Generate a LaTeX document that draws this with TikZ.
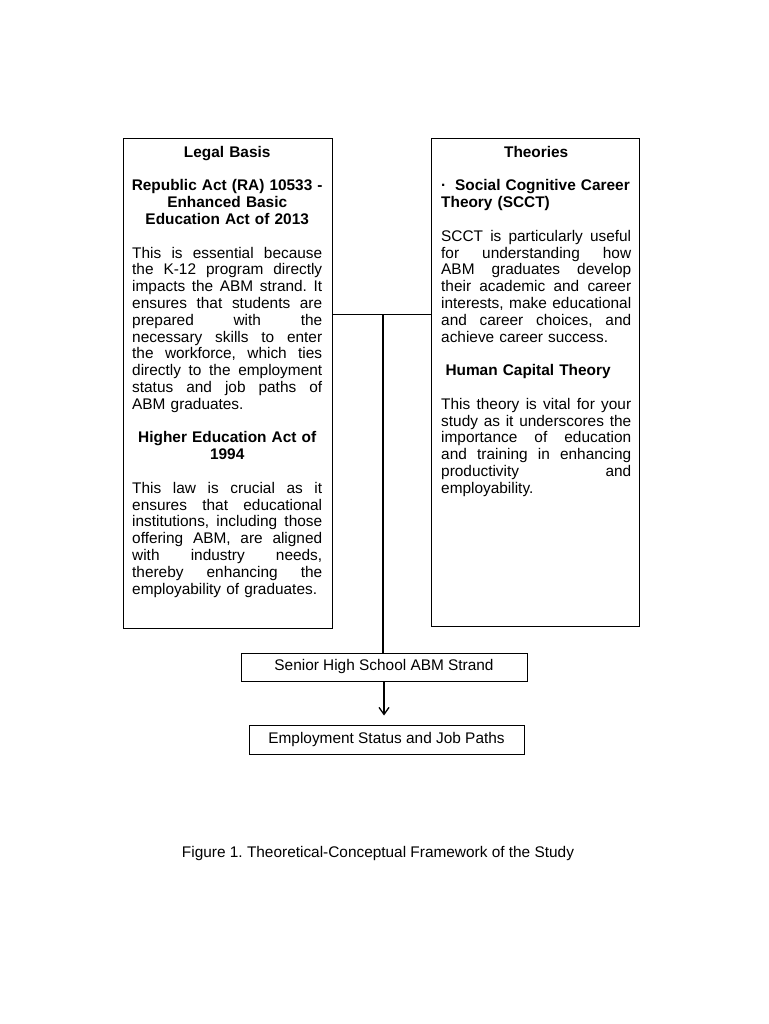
\documentclass[tikz,border=0pt]{standalone}
\usepackage{fontspec}
\setmainfont{Liberation Sans}
\usetikzlibrary{arrows.meta}
\frenchspacing
\newcommand\ctrl[1]{\makebox[190pt][c]{#1}}
\newcommand\jstl[1]{\makebox[190pt][s]{\frenchspacing\spaceskip=0.278em plus 1fil\relax #1}}
\newcommand\lftl[1]{\makebox[190pt][l]{\frenchspacing #1}}
\tikzset{
  frame/.style={draw=black, line width=1pt, inner sep=0pt},
  bodytext/.style={inner sep=0pt, anchor=north west, align=left, text width=190pt,
    font=\fontsize{15.4pt}{16.8pt}\selectfont},
  flowbox/.style={draw=black, line width=1pt, inner sep=0pt,
    font=\fontsize{15.4pt}{16.8pt}\selectfont\frenchspacing},
  link/.style={draw=black, line width=1pt},
}
\begin{document}
\begin{tikzpicture}[x=1pt,y=-1pt]
\useasboundingbox[fill=white] (0,0) rectangle (768,1024);

% boxes
\node[frame, minimum width=209pt, minimum height=490pt, anchor=north west] (legal) at (123,138) {};
\node[frame, minimum width=208pt, minimum height=488pt, anchor=north west] (theory) at (431,138) {};

\node[bodytext] (legaltext) at ([xshift=9pt,yshift=-8pt]legal.north west) {%
\ctrl{\bfseries Legal Basis}\\[16.8pt]
\ctrl{\bfseries Republic Act (RA) 10533 -}\\
\ctrl{\bfseries Enhanced Basic}\\
\ctrl{\bfseries Education Act of 2013}\\[16.8pt]
\jstl{This is essential because}\\
\jstl{the K-12 program directly}\\
\jstl{impacts the ABM strand. It}\\
\jstl{ensures that students are}\\
\jstl{prepared with the}\\
\jstl{necessary skills to enter}\\
\jstl{the workforce, which ties}\\
\jstl{directly to the employment}\\
\jstl{status and job paths of}\\
\lftl{ABM graduates.}\\[16.8pt]
\ctrl{\bfseries Higher Education Act of}\\
\ctrl{\bfseries 1994}\\[16.8pt]
\jstl{This law is crucial as it}\\
\jstl{ensures that educational}\\
\jstl{institutions, including those}\\
\jstl{offering ABM, are aligned}\\
\jstl{with industry needs,}\\
\jstl{thereby enhancing the}\\
\lftl{employability of graduates.}};

\node[bodytext] (theorytext) at ([xshift=10pt,yshift=-8pt]theory.north west) {%
\ctrl{\bfseries Theories}\\[16.8pt]
\lftl{\bfseries\makebox[14pt][l]{·}Social Cognitive Career}\\
\lftl{\bfseries Theory (SCCT)}\\[16.8pt]
\jstl{SCCT is particularly useful}\\
\jstl{for understanding how}\\
\jstl{ABM graduates develop}\\
\jstl{their academic and career}\\
\jstl{interests, make educational}\\
\jstl{and career choices, and}\\
\lftl{achieve career success.}\\[16.8pt]
\lftl{\bfseries\hspace{4.3pt}Human Capital Theory}\\[16.8pt]
\jstl{This theory is vital for your}\\
\jstl{study as it underscores the}\\
\jstl{importance of education}\\
\jstl{and training in enhancing}\\
\jstl{productivity and}\\
\lftl{employability.}};

% flow boxes
\node[flowbox, minimum width=286pt, minimum height=28pt] (shs) at (384,667) {Senior High School ABM Strand};
\node[flowbox, minimum width=275pt, minimum height=29pt] (emp) at (386.5,739.5) {Employment Status and Job Paths};

% connectors
\coordinate (junction) at (383,314);
\draw[link] (legal.east |- junction) -- (theory.west |- junction);
\draw[link, line width=1.5pt] (junction) -- (junction |- shs.north);
\draw[link, line width=1.3pt, -{Straight Barb[length=7pt,width=10pt]}, shorten >=9pt] (shs.south) -- (shs.south |- emp.north);

% caption
\node[inner sep=0pt, font=\fontsize{15.4pt}{16.8pt}\selectfont\frenchspacing] (caption) at (378,854) {Figure 1. Theoretical-Conceptual Framework of the Study};
\end{tikzpicture}
\end{document}
